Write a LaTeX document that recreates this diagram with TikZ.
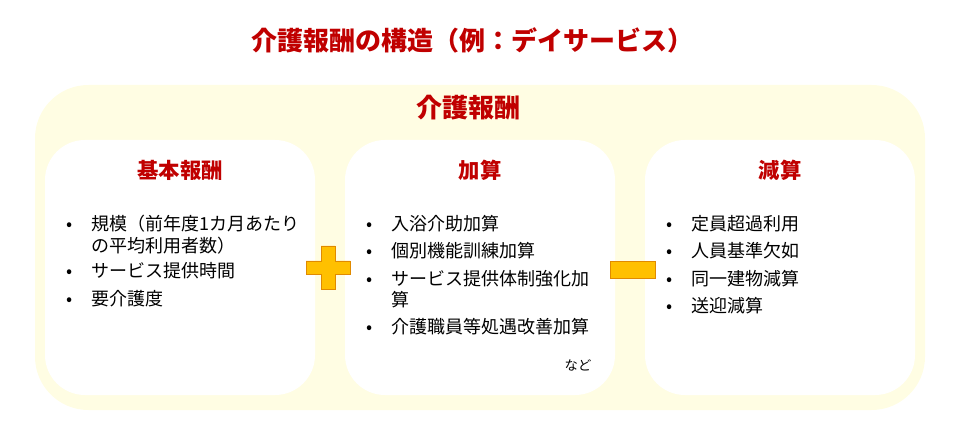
\documentclass[tikz,border=0pt]{standalone}
\usepackage{fontspec}
\setmainfont{Noto Sans CJK JP}
\definecolor{tred}{HTML}{C00000}
\definecolor{bgy}{HTML}{FFFDE3}
\definecolor{sign}{HTML}{FFC000}
\definecolor{signd}{HTML}{E08A00}
\begin{document}
\begin{tikzpicture}[x=0.75pt,y=-0.75pt,
  ttl/.style={text=tred,font=\bfseries\fontsize{19.5}{23}\selectfont},
  hdr/.style={text=tred,font=\bfseries\fontsize{16}{19}\selectfont},
  box/.style={fill=white,rounded corners=30pt},
  itm/.style={anchor=north west,align=left,font=\fontsize{13.5}{15}\selectfont,inner sep=0pt}]
\useasboundingbox (0,0) rectangle (960,438);
\node[ttl] (title) at (472,40) {介護報酬の構造（例：デイサービス）};
\fill[bgy,rounded corners=40pt] (35,85) rectangle (925,410);
\node[ttl] (main) at (468,108) {介護報酬};
\fill[box] (45,140) rectangle (315,395);
\fill[box] (345,140) rectangle (615,395);
\fill[box] (645,140) rectangle (915,395);
\node[hdr] (h1) at (180,170) {基本報酬};
\node[hdr] (h2) at (480,170) {加算};
\node[hdr] (h3) at (780,170) {減算};
\foreach \x/\y/\t [count=\i] in {
  66/215/{規模（前年度1カ月あたり\\ の平均利用者数）},
  66/262/{サービス提供時間},
  66/290/{要介護度},
  366/215/{入浴介助加算},
  366/242/{個別機能訓練加算},
  366/270/{サービス提供体制強化加\\ 算},
  366/318/{介護職員等処遇改善加算},
  666/215/{定員超過利用},
  666/242/{人員基準欠如},
  666/270/{同一建物減算},
  666/297/{送迎減算}}
  {\node[itm] (b\i) at (\x,\y) {•\hspace{14pt}\begin{tabular}[t]{@{}l@{}}\t\end{tabular}};}
\node[font=\fontsize{10}{12}\selectfont] (etc) at (578,365) {など};
\filldraw[fill=sign,draw=signd,line width=0.6pt]
  (321,246)--(335,246)--(335,261)--(350,261)--(350,274)--(335,274)--(335,289)--(321,289)--(321,274)--(306,274)--(306,261)--(321,261)--cycle;
\filldraw[fill=sign,draw=signd,line width=0.6pt] (610,261) rectangle (655,278);
\end{tikzpicture}
\end{document}
